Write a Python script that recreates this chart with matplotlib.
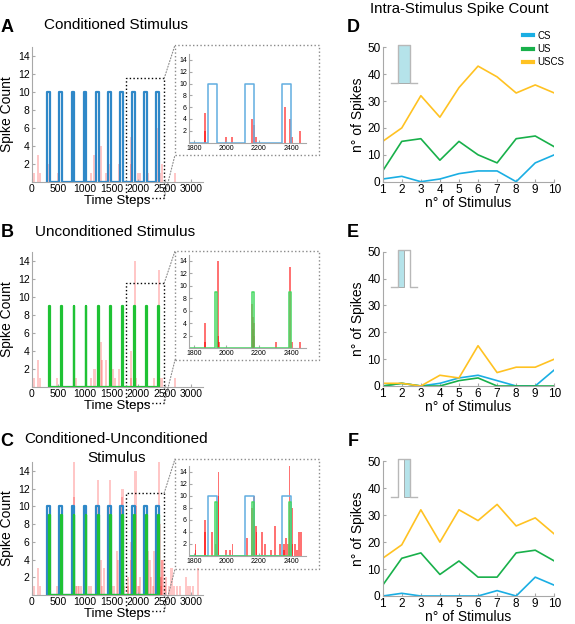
import matplotlib
matplotlib.use("Agg")
import matplotlib.pyplot as plt
from matplotlib.patches import Rectangle, ConnectionPatch

plt.rcParams['font.family'] = ['Liberation Sans', 'DejaVu Sans']

W, H = 575, 624

# stimulus pulses (time steps)
cs_onsets = [293, 521, 749, 977, 1205, 1433, 1661, 1889, 2117, 2345]
cs_width = 53
cs_height = 10
us_onsets = [331, 559, 787, 1015, 1243, 1471, 1699, 1927, 2155, 2383]
us_width = 14
us_height = 9

# spike counts per time bin, panel A (CS only)
a_spk_t = [50, 120, 150, 300, 490, 800, 1110, 1180, 1210, 1300, 1400, 1465, 1640,
           1870, 1870, 1998, 2034, 2160, 2170, 2180, 2362, 2392, 2402, 2453, 2700]
a_spk_n = [1, 3, 1, 2, 1, 1, 1, 3, 2, 4, 1, 2, 2,
           5, 2, 1, 1, 4, 3, 1, 6, 4, 1, 2, 1]

# panel B (US only)
b_spk_t = [50, 120, 150, 338, 470, 566, 794, 840, 1022, 1110, 1180, 1250, 1300, 1320,
           1400, 1478, 1530, 1560, 1640, 1706, 1870, 1870, 1948, 1948, 1955, 2160,
           2165, 2170, 2163, 2168, 2305, 2392, 2402, 2455, 2700]
b_spk_n = [1, 3, 1, 2, 1, 6, 7, 1, 3, 1, 2, 8, 5, 3,
           3, 6, 2, 1, 2, 4, 4, 1, 14, 2, 1, 7,
           5, 4, 3, 2, 1, 13, 1, 1, 1]

# panel C (CS + US)
c_spk_t = [50, 120, 150, 340, 480, 566, 790, 794, 830, 860, 890, 920, 1022, 1080,
           1110, 1245, 1250, 1300, 1320, 1360, 1478, 1482, 1510, 1540, 1600, 1630,
           1700, 1706, 1740, 1810, 1810, 1867, 1867, 1913, 1937, 1952, 1952, 1998,
           2022, 2038, 2129, 2160, 2170, 2170, 2180, 2185, 2220, 2240, 2277, 2301,
           2331, 2357, 2357, 2365, 2378, 2388, 2388, 2402, 2402, 2422, 2434, 2448,
           2459, 2505, 2532, 2580, 2627, 2670, 2733, 2783, 2895, 2940, 2970, 3033, 3126]
c_spk_n = [1, 3, 1, 2, 1, 3, 15, 11, 1, 1, 1, 1, 3, 1,
           1, 13, 7, 4, 1, 3, 13, 5, 1, 1, 5, 4,
           11, 12, 1, 2, 1, 4, 6, 4, 2, 14, 10, 1,
           1, 2, 3, 8, 10, 6, 5, 4, 4, 2, 1, 5,
           2, 2, 1, 3, 2, 15, 6, 8, 2, 2, 1, 4,
           4, 1, 2, 1, 3, 1, 1, 1, 2, 1, 1, 1, 3]

# intra-stimulus spike counts
stim_n = [1, 2, 3, 4, 5, 6, 7, 8, 9, 10]
d_cs = [1, 2, 0, 1, 3, 4, 4, 0, 7, 10]
d_us = [4, 15, 16, 8, 15, 10, 7, 16, 17, 13]
d_uscs = [15, 20, 32, 24, 35, 43, 39, 33, 36, 33]
e_cs = [0, 1, 0, 1, 3, 4, 2, 0, 0, 6]
e_us = [0, 1, 0, 0, 2, 3, 0, 0, 0, 0]
e_uscs = [1, 1, 0, 4, 3, 15, 5, 7, 7, 10]
f_cs = [0, 1, 0, 0, 0, 0, 2, 0, 7, 4]
f_us = [4, 14, 16, 8, 13, 7, 7, 16, 17, 13]
f_uscs = [14, 19, 32, 20, 32, 28, 34, 26, 29, 23]

CS_COL = '#2f88c8'
US_COL = '#1fc234'
AX_COL = '#a8a8a8'


def px_box(l, t, r, b):
    return [l / W, 1 - b / H, (r - l) / W, (b - t) / H]


def pulse_xy(onsets, width, height):
    xs, ys = [], []
    for o in onsets:
        xs += [o, o, o + width, o + width]
        ys += [0, height, height, 0]
    return xs, ys


def style_axes(ax, size):
    for s in ['top', 'right']:
        ax.spines[s].set_visible(False)
    for s in ['left', 'bottom']:
        ax.spines[s].set_color(AX_COL)
        ax.spines[s].set_linewidth(0.8)
    ax.tick_params(direction='in', length=2, color=AX_COL, labelsize=size, pad=1.5)


def raster_panel(main_box, inset_box, frame_box, spk_t, spk_n, show_cs, show_us):
    ax = fig.add_axes(px_box(*main_box))
    ins = fig.add_axes(px_box(*inset_box))
    ins.set_facecolor('none')
    for a, lw, bw, alpha, cc, uc in [(ax, 1.6, 40, 0.22, CS_COL, US_COL),
                                     (ins, 1.1, 11, 0.55, '#62aee0', '#45d862')]:
        if show_cs:
            a.plot(*pulse_xy(cs_onsets, cs_width, cs_height), color=cc, lw=lw,
                   solid_joinstyle='round')
        if show_us:
            a.plot(*pulse_xy(us_onsets, us_width, us_height), color=uc, lw=lw,
                   solid_joinstyle='round')
        a.bar(spk_t, spk_n, width=bw, color='red', alpha=alpha, lw=0)
        a.set_ylim(0, 15)
        a.set_yticks([2, 4, 6, 8, 10, 12, 14])
    style_axes(ax, 7.5)
    style_axes(ins, 5)
    ax.set_xlim(0, 3220)
    ax.set_xticks([0, 500, 1000, 1500, 2000, 2500, 3000])
    ax.set_ylabel('Spike Count', fontsize=10, labelpad=3)
    ax.set_xlabel('Time Steps', fontsize=9.5, labelpad=1)
    ins.set_xlim(1770, 2490)
    ins.set_xticks([1800, 2000, 2200, 2400])

    # zoom marker and frame
    x0, x1 = ins.get_xlim()
    ax.add_patch(Rectangle((x0, -1.8), x1 - x0, 13.3, fill=False, ls=':', lw=1,
                           ec='k', clip_on=False))
    l, t, r, b = frame_box
    fig.add_artist(Rectangle((l / W, 1 - b / H), (r - l) / W, (b - t) / H,
                             transform=fig.transFigure, fill=False, ls=':',
                             lw=1, ec='#8a8a8a'))
    for ydat, ypx in [(11.5, t), (-1.8, b)]:
        fig.add_artist(ConnectionPatch(xyA=(x1, ydat), coordsA=ax.transData,
                                       xyB=(l / W, 1 - ypx / H),
                                       coordsB=fig.transFigure,
                                       color='#8a8a8a', lw=0.8, ls=':'))
    return ax


def count_panel(box, cs, us, uscs, fill_lo, fill_hi, legend=False):
    ax = fig.add_axes(px_box(*box))
    ax.plot(stim_n, cs, color='#1aaee3', lw=1.2, label='CS')
    ax.plot(stim_n, us, color='#18b04a', lw=1.2, label='US')
    ax.plot(stim_n, uscs, color='#ffc222', lw=1.2, label='USCS')
    ax.set_xlim(1, 10)
    ax.set_ylim(0, 50)
    ax.set_xticks(stim_n)
    ax.set_yticks([0, 10, 20, 30, 40, 50])
    style_axes(ax, 8.5)
    ax.set_ylabel('n° of Spikes', fontsize=10, labelpad=2)
    ax.set_xlabel('n° of Stimulus', fontsize=10, labelpad=0)
    tr = ax.transAxes
    ax.plot([0.047, 0.09, 0.09, 0.159, 0.159, 0.202],
            [0.735, 0.735, 1.015, 1.015, 0.735, 0.735],
            transform=tr, color='#b8b8b8', lw=1, clip_on=False)
    ax.add_patch(Rectangle((fill_lo, 0.735), fill_hi - fill_lo, 0.28, transform=tr,
                           fc='#b5e3ea', ec='#a0a0a0', lw=0.6, clip_on=False))
    if legend:
        leg = ax.legend(loc='upper left', bbox_to_anchor=(0.79, 1.16), frameon=False,
                        fontsize=7, handlelength=1.0, handletextpad=0.5,
                        labelspacing=0.35, borderpad=0)
        for ln in leg.get_lines():
            ln.set_linewidth(3)
    return ax


fig = plt.figure(figsize=(W / 100, H / 100), dpi=100)

raster_panel((31.7, 47, 203, 181.5), (189, 54, 306, 142.5), (175, 45, 319, 155),
             a_spk_t, a_spk_n, True, False)
raster_panel((31.7, 251.6, 203, 387), (189, 254.5, 306, 348), (175, 251, 319, 360),
             b_spk_t, b_spk_n, False, True)
raster_panel((31.7, 462, 203, 595), (189, 466, 306, 555.6), (175, 459, 319, 569),
             c_spk_t, c_spk_n, True, True)

count_panel((382.7, 47.3, 554.3, 181.7), d_cs, d_us, d_uscs, 0.09, 0.159, legend=True)
count_panel((382.7, 251.7, 554.3, 386), e_cs, e_us, e_uscs, 0.09, 0.126)
count_panel((382.7, 461.3, 554.3, 596), f_cs, f_us, f_uscs, 0.126, 0.159)


def ftext(x, y, s, **kw):
    fig.text(x / W, 1 - y / H, s, ha='center', va='center', **kw)


ftext(7, 27, 'A', fontsize=13, fontweight='bold')
ftext(7, 232.5, 'B', fontsize=13, fontweight='bold')
ftext(7, 441, 'C', fontsize=13, fontweight='bold')
ftext(353, 28, 'D', fontsize=13, fontweight='bold')
ftext(353, 232.5, 'E', fontsize=13, fontweight='bold')
ftext(353, 441, 'F', fontsize=13, fontweight='bold')

ftext(116, 25, 'Conditioned Stimulus', fontsize=11)
ftext(115, 231.5, 'Unconditioned Stimulus', fontsize=11)
ftext(116.5, 439, 'Conditioned-Unconditioned', fontsize=11)
ftext(116.5, 458, 'Stimulus', fontsize=11)
ftext(459, 9, 'Intra-Stimulus Spike Count', fontsize=10.8)

fig.savefig('out.png', dpi=100)
